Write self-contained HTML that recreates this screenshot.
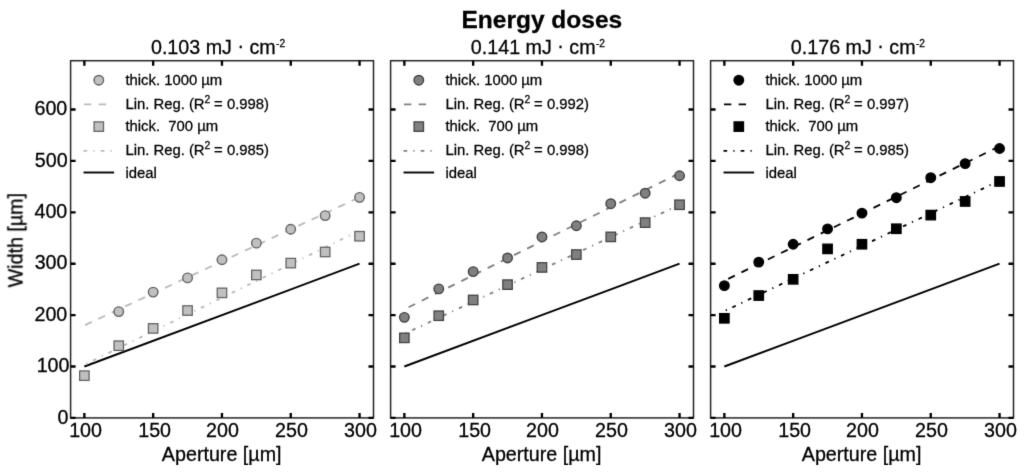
<!DOCTYPE html>
<html><head><meta charset="utf-8"><title>Energy doses</title>
<style>
html,body{margin:0;padding:0;background:#fff;}
svg{display:block;}
text{font-family:"Liberation Sans",Arial,Helvetica,sans-serif;fill:#000;stroke:#000;stroke-width:0.28px;}
</style></head><body>
<svg width="1024" height="476" viewBox="0 0 1024 476">
<rect width="1024" height="476" fill="#fff"/>
<defs><filter id="soft" x="0" y="0" width="1024" height="476" filterUnits="userSpaceOnUse"><feConvolveMatrix order="3" kernelMatrix="0.0100 0.0800 0.0100 0.0800 0.6400 0.0800 0.0100 0.0800 0.0100" divisor="1" edgeMode="duplicate" preserveAlpha="false"/></filter></defs>
<g filter="url(#soft)">
<text x="541.8" y="27.8" text-anchor="middle" font-size="24.5" font-weight="bold">Energy doses</text>
<text transform="translate(22.4,240.2) rotate(-90)" text-anchor="middle" font-size="19.7">Width [µm]</text>
<g>
<text x="218.0" y="53.6" text-anchor="middle" font-size="19.7">0.103 mJ <tspan dy="-1.3">·</tspan><tspan dy="1.3"> cm</tspan><tspan dx="0.3" dy="-6.2" font-size="10.2">-2</tspan></text>
<line x1="84.36" y1="366.50" x2="359.56" y2="263.70" stroke="#000" stroke-width="1.9"/>
<line x1="84.36" y1="325.38" x2="359.56" y2="197.31" stroke="#bababa" stroke-width="1.85" stroke-dasharray="7.35 7.35" stroke-dashoffset="-0.8"/>
<line x1="84.36" y1="364.73" x2="359.56" y2="230.70" stroke="#bababa" stroke-width="1.85" stroke-dasharray="3.68 6.13 1.23 6.13" stroke-dashoffset="-9.5"/>
<rect x="79.66" y="370.98" width="9.4" height="9.4" fill="#c0c0c0" stroke="#606060" stroke-width="1.3"/>
<rect x="114.06" y="341.01" width="9.4" height="9.4" fill="#c0c0c0" stroke="#606060" stroke-width="1.3"/>
<rect x="148.46" y="323.70" width="9.4" height="9.4" fill="#c0c0c0" stroke="#606060" stroke-width="1.3"/>
<rect x="182.86" y="305.83" width="9.4" height="9.4" fill="#c0c0c0" stroke="#606060" stroke-width="1.3"/>
<rect x="217.26" y="288.17" width="9.4" height="9.4" fill="#c0c0c0" stroke="#606060" stroke-width="1.3"/>
<rect x="251.66" y="270.25" width="9.4" height="9.4" fill="#c0c0c0" stroke="#606060" stroke-width="1.3"/>
<rect x="286.06" y="258.40" width="9.4" height="9.4" fill="#c0c0c0" stroke="#606060" stroke-width="1.3"/>
<rect x="320.46" y="247.28" width="9.4" height="9.4" fill="#c0c0c0" stroke="#606060" stroke-width="1.3"/>
<rect x="354.86" y="231.52" width="9.4" height="9.4" fill="#c0c0c0" stroke="#606060" stroke-width="1.3"/>
<circle cx="118.76" cy="311.61" r="4.75" fill="#c0c0c0" stroke="#606060" stroke-width="1.4"/>
<circle cx="153.16" cy="292.09" r="4.75" fill="#c0c0c0" stroke="#606060" stroke-width="1.4"/>
<circle cx="187.56" cy="277.88" r="4.75" fill="#c0c0c0" stroke="#606060" stroke-width="1.4"/>
<circle cx="221.96" cy="259.75" r="4.75" fill="#c0c0c0" stroke="#606060" stroke-width="1.4"/>
<circle cx="256.36" cy="243.17" r="4.75" fill="#c0c0c0" stroke="#606060" stroke-width="1.4"/>
<circle cx="290.76" cy="229.26" r="4.75" fill="#c0c0c0" stroke="#606060" stroke-width="1.4"/>
<circle cx="325.16" cy="215.62" r="4.75" fill="#c0c0c0" stroke="#606060" stroke-width="1.4"/>
<circle cx="359.56" cy="197.33" r="4.75" fill="#c0c0c0" stroke="#606060" stroke-width="1.4"/>
<rect x="70.60" y="60.7" width="302.9" height="357.20" fill="none" stroke="#262626" stroke-width="1.5"/>
<path d="M84.36 417.9v-5M84.36 60.7v5M153.16 417.9v-5M153.16 60.7v5M221.96 417.9v-5M221.96 60.7v5M290.76 417.9v-5M290.76 60.7v5M359.56 417.9v-5M359.56 60.7v5M70.60 417.90h5M373.50 417.90h-5M70.60 366.50h5M373.50 366.50h-5M70.60 315.10h5M373.50 315.10h-5M70.60 263.70h5M373.50 263.70h-5M70.60 212.30h5M373.50 212.30h-5M70.60 160.90h5M373.50 160.90h-5M70.60 109.50h5M373.50 109.50h-5" stroke="#000" stroke-width="2.35" fill="none"/>
<text x="85.56" y="436.6" text-anchor="middle" font-size="19.7">100</text>
<text x="154.66" y="436.6" text-anchor="middle" font-size="19.7">150</text>
<text x="222.46" y="436.6" text-anchor="middle" font-size="19.7">200</text>
<text x="291.46" y="436.6" text-anchor="middle" font-size="19.7">250</text>
<text x="360.46" y="436.6" text-anchor="middle" font-size="19.7">300</text>
<text x="68.5" y="423.60" text-anchor="end" font-size="19.7">0</text>
<text x="69.5" y="372.20" text-anchor="end" font-size="19.7">100</text>
<text x="67.3" y="320.80" text-anchor="end" font-size="19.7">200</text>
<text x="67.5" y="269.40" text-anchor="end" font-size="19.7">300</text>
<text x="67.3" y="218.00" text-anchor="end" font-size="19.7">400</text>
<text x="67.6" y="166.60" text-anchor="end" font-size="19.7">500</text>
<text x="67.3" y="115.20" text-anchor="end" font-size="19.7">600</text>
<text x="221.7" y="460.6" text-anchor="middle" font-size="19.7">Aperture [µm]</text>
<circle cx="98.80" cy="80.2" r="4.75" fill="#c0c0c0" stroke="#606060" stroke-width="1.4"/>
<line x1="84.00" y1="104.4" x2="113.40" y2="104.4" stroke="#bababa" stroke-width="1.85" stroke-dasharray="7.35 7.35"/>
<rect x="94.10" y="121.90" width="9.4" height="9.4" fill="#c0c0c0" stroke="#606060" stroke-width="1.3"/>
<line x1="83.50" y1="150.8" x2="114.10" y2="150.8" stroke="#bababa" stroke-width="1.85" stroke-dasharray="3.68 6.13 1.23 6.13"/>
<line x1="83.50" y1="172.5" x2="114.10" y2="172.5" stroke="#000" stroke-width="1.9"/>
<text x="125.40" y="84.50" font-size="14.85">thick. 1000 µm</text>
<text x="125.40" y="108.90" font-size="14.85">Lin. Reg. (R<tspan dy="-6.1" font-size="10.4">2</tspan><tspan dy="6.1" dx="-0.4"> = 0.998)</tspan></text>
<text x="125.40" y="130.90" font-size="14.85" xml:space="preserve">thick.  700 µm</text>
<text x="125.40" y="155.40" font-size="14.85">Lin. Reg. (R<tspan dy="-6.1" font-size="10.4">2</tspan><tspan dy="6.1" dx="-0.4"> = 0.985)</tspan></text>
<text x="125.40" y="177.90" font-size="14.85">ideal</text>
</g>
<g>
<text x="537.9" y="53.6" text-anchor="middle" font-size="19.7">0.141 mJ <tspan dy="-1.3">·</tspan><tspan dy="1.3"> cm</tspan><tspan dx="0.3" dy="-6.2" font-size="10.2">-2</tspan></text>
<line x1="404.36" y1="366.50" x2="679.56" y2="263.70" stroke="#000" stroke-width="1.9"/>
<line x1="404.36" y1="309.31" x2="679.56" y2="173.16" stroke="#808080" stroke-width="1.85" stroke-dasharray="7.35 7.35" stroke-dashoffset="-4.7"/>
<line x1="404.36" y1="333.92" x2="679.56" y2="204.84" stroke="#808080" stroke-width="1.85" stroke-dasharray="3.68 6.13 1.23 6.13" stroke-dashoffset="-8.6"/>
<rect x="399.66" y="333.18" width="9.4" height="9.4" fill="#808080" stroke="#404040" stroke-width="1.3"/>
<rect x="434.06" y="311.03" width="9.4" height="9.4" fill="#808080" stroke="#404040" stroke-width="1.3"/>
<rect x="468.46" y="295.27" width="9.4" height="9.4" fill="#808080" stroke="#404040" stroke-width="1.3"/>
<rect x="502.86" y="279.93" width="9.4" height="9.4" fill="#808080" stroke="#404040" stroke-width="1.3"/>
<rect x="537.26" y="262.73" width="9.4" height="9.4" fill="#808080" stroke="#404040" stroke-width="1.3"/>
<rect x="571.66" y="249.85" width="9.4" height="9.4" fill="#808080" stroke="#404040" stroke-width="1.3"/>
<rect x="606.06" y="232.19" width="9.4" height="9.4" fill="#808080" stroke="#404040" stroke-width="1.3"/>
<rect x="640.46" y="217.92" width="9.4" height="9.4" fill="#808080" stroke="#404040" stroke-width="1.3"/>
<rect x="674.86" y="200.05" width="9.4" height="9.4" fill="#808080" stroke="#404040" stroke-width="1.3"/>
<circle cx="404.36" cy="317.33" r="4.75" fill="#808080" stroke="#404040" stroke-width="1.4"/>
<circle cx="438.76" cy="288.85" r="4.75" fill="#808080" stroke="#404040" stroke-width="1.4"/>
<circle cx="473.16" cy="271.60" r="4.75" fill="#808080" stroke="#404040" stroke-width="1.4"/>
<circle cx="507.56" cy="257.95" r="4.75" fill="#808080" stroke="#404040" stroke-width="1.4"/>
<circle cx="541.96" cy="236.94" r="4.75" fill="#808080" stroke="#404040" stroke-width="1.4"/>
<circle cx="576.36" cy="225.76" r="4.75" fill="#808080" stroke="#404040" stroke-width="1.4"/>
<circle cx="610.76" cy="203.72" r="4.75" fill="#808080" stroke="#404040" stroke-width="1.4"/>
<circle cx="645.16" cy="193.21" r="4.75" fill="#808080" stroke="#404040" stroke-width="1.4"/>
<circle cx="679.56" cy="175.76" r="4.75" fill="#808080" stroke="#404040" stroke-width="1.4"/>
<rect x="390.60" y="60.7" width="302.9" height="357.20" fill="none" stroke="#262626" stroke-width="1.5"/>
<path d="M404.36 417.9v-5M404.36 60.7v5M473.16 417.9v-5M473.16 60.7v5M541.96 417.9v-5M541.96 60.7v5M610.76 417.9v-5M610.76 60.7v5M679.56 417.9v-5M679.56 60.7v5M390.60 417.90h5M693.50 417.90h-5M390.60 366.50h5M693.50 366.50h-5M390.60 315.10h5M693.50 315.10h-5M390.60 263.70h5M693.50 263.70h-5M390.60 212.30h5M693.50 212.30h-5M390.60 160.90h5M693.50 160.90h-5M390.60 109.50h5M693.50 109.50h-5" stroke="#000" stroke-width="2.35" fill="none"/>
<text x="405.56" y="436.6" text-anchor="middle" font-size="19.7">100</text>
<text x="474.66" y="436.6" text-anchor="middle" font-size="19.7">150</text>
<text x="542.46" y="436.6" text-anchor="middle" font-size="19.7">200</text>
<text x="611.46" y="436.6" text-anchor="middle" font-size="19.7">250</text>
<text x="680.46" y="436.6" text-anchor="middle" font-size="19.7">300</text>
<text x="541.6" y="460.6" text-anchor="middle" font-size="19.7">Aperture [µm]</text>
<circle cx="418.80" cy="80.2" r="4.75" fill="#808080" stroke="#404040" stroke-width="1.4"/>
<line x1="404.00" y1="104.4" x2="433.40" y2="104.4" stroke="#808080" stroke-width="1.85" stroke-dasharray="7.35 7.35"/>
<rect x="414.10" y="121.90" width="9.4" height="9.4" fill="#808080" stroke="#404040" stroke-width="1.3"/>
<line x1="403.50" y1="150.8" x2="434.10" y2="150.8" stroke="#808080" stroke-width="1.85" stroke-dasharray="3.68 6.13 1.23 6.13"/>
<line x1="403.50" y1="172.5" x2="434.10" y2="172.5" stroke="#000" stroke-width="1.9"/>
<text x="445.40" y="84.50" font-size="14.85">thick. 1000 µm</text>
<text x="445.40" y="108.90" font-size="14.85">Lin. Reg. (R<tspan dy="-6.1" font-size="10.4">2</tspan><tspan dy="6.1" dx="-0.4"> = 0.992)</tspan></text>
<text x="445.40" y="130.90" font-size="14.85" xml:space="preserve">thick.  700 µm</text>
<text x="445.40" y="155.40" font-size="14.85">Lin. Reg. (R<tspan dy="-6.1" font-size="10.4">2</tspan><tspan dy="6.1" dx="-0.4"> = 0.998)</tspan></text>
<text x="445.40" y="177.90" font-size="14.85">ideal</text>
</g>
<g>
<text x="857.9" y="53.6" text-anchor="middle" font-size="19.7">0.176 mJ <tspan dy="-1.3">·</tspan><tspan dy="1.3"> cm</tspan><tspan dx="0.3" dy="-6.2" font-size="10.2">-2</tspan></text>
<line x1="724.36" y1="366.50" x2="999.56" y2="263.70" stroke="#000" stroke-width="1.9"/>
<line x1="724.36" y1="280.74" x2="999.56" y2="146.28" stroke="#000000" stroke-width="1.85" stroke-dasharray="7.35 7.35" stroke-dashoffset="-4.3"/>
<line x1="724.36" y1="311.11" x2="999.56" y2="180.69" stroke="#000000" stroke-width="1.85" stroke-dasharray="3.68 6.13 1.23 6.13" stroke-dashoffset="-8.9"/>
<rect x="719.66" y="313.61" width="9.4" height="9.4" fill="#000000" stroke="#000000" stroke-width="1.3"/>
<rect x="754.06" y="290.85" width="9.4" height="9.4" fill="#000000" stroke="#000000" stroke-width="1.3"/>
<rect x="788.46" y="274.62" width="9.4" height="9.4" fill="#000000" stroke="#000000" stroke-width="1.3"/>
<rect x="822.86" y="244.19" width="9.4" height="9.4" fill="#000000" stroke="#000000" stroke-width="1.3"/>
<rect x="857.26" y="239.55" width="9.4" height="9.4" fill="#000000" stroke="#000000" stroke-width="1.3"/>
<rect x="891.66" y="224.05" width="9.4" height="9.4" fill="#000000" stroke="#000000" stroke-width="1.3"/>
<rect x="926.06" y="210.40" width="9.4" height="9.4" fill="#000000" stroke="#000000" stroke-width="1.3"/>
<rect x="960.46" y="196.75" width="9.4" height="9.4" fill="#000000" stroke="#000000" stroke-width="1.3"/>
<rect x="994.86" y="176.77" width="9.4" height="9.4" fill="#000000" stroke="#000000" stroke-width="1.3"/>
<circle cx="724.36" cy="285.66" r="4.75" fill="#000000" stroke="#000000" stroke-width="1.4"/>
<circle cx="758.76" cy="262.12" r="4.75" fill="#000000" stroke="#000000" stroke-width="1.4"/>
<circle cx="793.16" cy="244.25" r="4.75" fill="#000000" stroke="#000000" stroke-width="1.4"/>
<circle cx="827.56" cy="228.90" r="4.75" fill="#000000" stroke="#000000" stroke-width="1.4"/>
<circle cx="861.96" cy="213.15" r="4.75" fill="#000000" stroke="#000000" stroke-width="1.4"/>
<circle cx="896.36" cy="197.70" r="4.75" fill="#000000" stroke="#000000" stroke-width="1.4"/>
<circle cx="930.76" cy="177.71" r="4.75" fill="#000000" stroke="#000000" stroke-width="1.4"/>
<circle cx="965.16" cy="163.60" r="4.75" fill="#000000" stroke="#000000" stroke-width="1.4"/>
<circle cx="999.56" cy="148.51" r="4.75" fill="#000000" stroke="#000000" stroke-width="1.4"/>
<rect x="710.60" y="60.7" width="302.9" height="357.20" fill="none" stroke="#262626" stroke-width="1.5"/>
<path d="M724.36 417.9v-5M724.36 60.7v5M793.16 417.9v-5M793.16 60.7v5M861.96 417.9v-5M861.96 60.7v5M930.76 417.9v-5M930.76 60.7v5M999.56 417.9v-5M999.56 60.7v5M710.60 417.90h5M1013.50 417.90h-5M710.60 366.50h5M1013.50 366.50h-5M710.60 315.10h5M1013.50 315.10h-5M710.60 263.70h5M1013.50 263.70h-5M710.60 212.30h5M1013.50 212.30h-5M710.60 160.90h5M1013.50 160.90h-5M710.60 109.50h5M1013.50 109.50h-5" stroke="#000" stroke-width="2.35" fill="none"/>
<text x="725.56" y="436.6" text-anchor="middle" font-size="19.7">100</text>
<text x="794.66" y="436.6" text-anchor="middle" font-size="19.7">150</text>
<text x="862.46" y="436.6" text-anchor="middle" font-size="19.7">200</text>
<text x="931.46" y="436.6" text-anchor="middle" font-size="19.7">250</text>
<text x="1000.46" y="436.6" text-anchor="middle" font-size="19.7">300</text>
<text x="861.6" y="460.6" text-anchor="middle" font-size="19.7">Aperture [µm]</text>
<circle cx="738.80" cy="80.2" r="4.75" fill="#000000" stroke="#000000" stroke-width="1.4"/>
<line x1="724.00" y1="104.4" x2="753.40" y2="104.4" stroke="#000000" stroke-width="1.85" stroke-dasharray="7.35 7.35"/>
<rect x="734.10" y="121.90" width="9.4" height="9.4" fill="#000000" stroke="#000000" stroke-width="1.3"/>
<line x1="723.50" y1="150.8" x2="754.10" y2="150.8" stroke="#000000" stroke-width="1.85" stroke-dasharray="3.68 6.13 1.23 6.13"/>
<line x1="723.50" y1="172.5" x2="754.10" y2="172.5" stroke="#000" stroke-width="1.9"/>
<text x="765.40" y="84.50" font-size="14.85">thick. 1000 µm</text>
<text x="765.40" y="108.90" font-size="14.85">Lin. Reg. (R<tspan dy="-6.1" font-size="10.4">2</tspan><tspan dy="6.1" dx="-0.4"> = 0.997)</tspan></text>
<text x="765.40" y="130.90" font-size="14.85" xml:space="preserve">thick.  700 µm</text>
<text x="765.40" y="155.40" font-size="14.85">Lin. Reg. (R<tspan dy="-6.1" font-size="10.4">2</tspan><tspan dy="6.1" dx="-0.4"> = 0.985)</tspan></text>
<text x="765.40" y="177.90" font-size="14.85">ideal</text>
</g>
</g>
</svg>
</body></html>
